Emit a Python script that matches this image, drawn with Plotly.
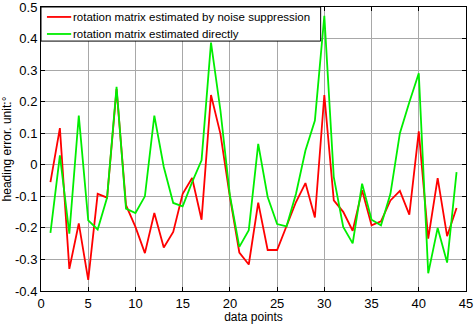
import plotly.graph_objects as go

# heading error per data point for the two rotation-matrix estimates
data_points = list(range(1, 45))
err_noise_suppression = [
    -0.055, 0.116, -0.330, -0.186, -0.365, -0.092, -0.104, 0.240,
    -0.128, -0.197, -0.280, -0.153, -0.262, -0.213, -0.092, -0.042,
    -0.174, 0.221, 0.098, -0.102, -0.278, -0.316, -0.120, -0.270,
    -0.270, -0.197, -0.118, -0.058, -0.167, 0.221, -0.113, -0.149,
    -0.209, -0.081, -0.192, -0.179, -0.113, -0.083, -0.158, 0.106,
    -0.234, -0.042, -0.226, -0.137,
]
err_direct = [
    -0.216, 0.030, -0.218, 0.156, -0.176, -0.205, -0.104, 0.247,
    -0.139, -0.153, -0.100, 0.156, -0.007, -0.121, -0.132, -0.055,
    0.014, 0.387, 0.172, -0.097, -0.260, -0.207, 0.066, -0.102,
    -0.188, -0.195, -0.092, 0.045, 0.140, 0.472, -0.039, -0.197,
    -0.249, -0.060, -0.174, -0.192, -0.092, 0.100, 0.198, 0.290,
    -0.344, -0.200, -0.310, -0.023,
]
series_names = [
    "rotation matrix estimated by noise suppression",
    "rotation matrix estimated directly",
]
series_colors = ["#ff0000", "#00ee00"]
x_ticks = [0, 5, 10, 15, 20, 25, 30, 35, 40, 45]
y_ticks = [0.5, 0.4, 0.3, 0.2, 0.1, 0, -0.1, -0.2, -0.3, -0.4]

fig = go.Figure()
for name, color, values in zip(series_names, series_colors,
                               [err_noise_suppression, err_direct]):
    fig.add_trace(go.Scatter(
        x=data_points, y=values, mode="lines", name=name,
        line=dict(color=color, width=1.8), showlegend=False,
    ))

# compact MATLAB-style legend box in the upper-left corner of the axes
legend_box = dict(x0=0, x1=0.658, y0=0.880, y1=1.0)
row_y = [0.965, 0.905]
shapes = [dict(
    type="rect", xref="paper", yref="paper", layer="above",
    fillcolor="white", line=dict(color="black", width=1), **legend_box,
)]
annotations = []
for name, color, yy in zip(series_names, series_colors, row_y):
    shapes.append(dict(
        type="line", xref="paper", yref="paper", layer="above",
        x0=0.014, x1=0.071, y0=yy, y1=yy,
        line=dict(color=color, width=1.8),
    ))
    annotations.append(dict(
        xref="paper", yref="paper", x=0.071, y=yy,
        xanchor="left", yanchor="middle", showarrow=False,
        text=name, font=dict(size=11.5, color="black"),
    ))

axis_common = dict(
    showline=True, linecolor="black", linewidth=1, mirror="ticks",
    ticks="inside", ticklen=4, tickcolor="black",
    showgrid=True, gridcolor="#a8a8a8", gridwidth=1,
    zeroline=False, tickfont=dict(size=13, color="black"),
    automargin=False, ticklabeloverflow="allow",
)

fig.update_layout(
    width=474, height=324,
    margin=dict(l=41, r=8, t=7, b=33),
    paper_bgcolor="white", plot_bgcolor="white",
    font=dict(family="Liberation Sans, Arial, sans-serif", size=12, color="black"),
    xaxis=dict(
        range=[0, 45], tickvals=x_ticks,
        ticktext=[str(v) for v in x_ticks],
        title=dict(text="data points", font=dict(size=12)),
        **axis_common,
    ),
    yaxis=dict(
        range=[-0.4, 0.5], tickvals=y_ticks,
        ticktext=[f"{v:g}" for v in y_ticks],
        title=dict(text="heading error. unit:°", font=dict(size=12)),
        **axis_common,
    ),
    shapes=shapes,
    annotations=annotations,
    showlegend=False,
)

fig.write_html("out.html")
